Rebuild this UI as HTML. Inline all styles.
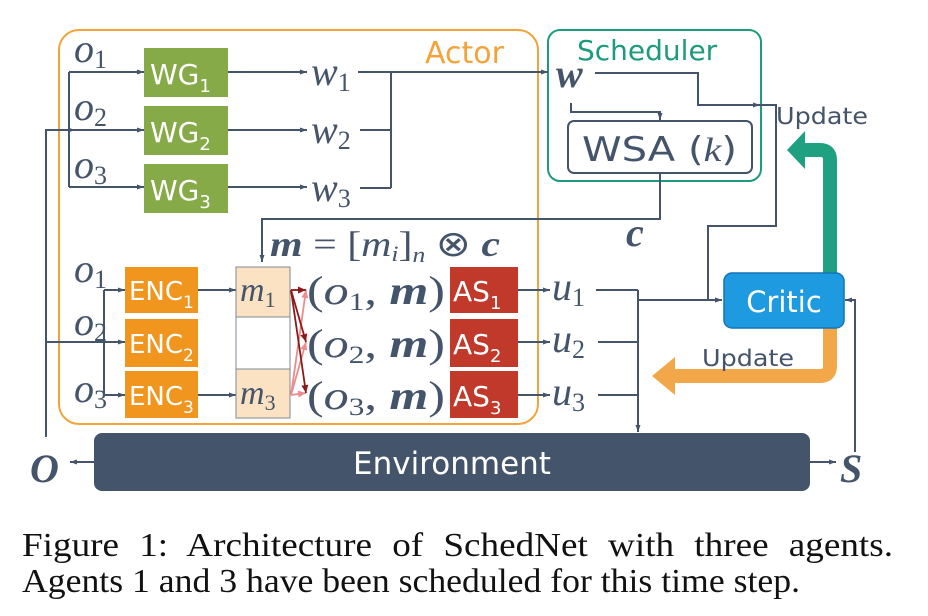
<!DOCTYPE html>
<html><head><meta charset="utf-8"><style>
html,body{margin:0;padding:0;background:#fff;}
svg{display:block;}
.m{font-family:"Liberation Serif",serif;font-style:italic;fill:#44546a;}
.s{font-family:"DejaVu Sans","Liberation Sans",sans-serif;fill:#fff;}
</style></head><body>
<svg width="928" height="616" viewBox="0 0 928 616" xmlns="http://www.w3.org/2000/svg">
<defs>
<marker id="a" markerWidth="8" markerHeight="8" refX="7" refY="4" orient="auto" markerUnits="userSpaceOnUse"><path d="M0,1.5 L7,4 L0,6.5z" fill="#44546a"/></marker>
<marker id="r" markerWidth="10" markerHeight="10" refX="8" refY="4" orient="auto" markerUnits="userSpaceOnUse"><path d="M0,0.5 L8,4 L0,7.5z" fill="#8b1a1a"/></marker>
<marker id="p" markerWidth="10" markerHeight="10" refX="8" refY="4" orient="auto" markerUnits="userSpaceOnUse"><path d="M0,0.5 L8,4 L0,7.5z" fill="#ec8c8c"/></marker>
</defs>
<rect x="59" y="30" width="479" height="394" rx="20" fill="none" stroke="#f2a43a" stroke-width="2"/>
<text x="425" y="63" font-family="DejaVu Sans,sans-serif" font-size="30" fill="#f2a43a">Actor</text>
<rect x="548" y="30" width="213" height="151" rx="12" fill="none" stroke="#1d9b7d" stroke-width="2"/>
<text x="577" y="60" font-family="DejaVu Sans,sans-serif" font-size="28" fill="#1d9b7d">Scheduler</text>
<rect x="568" y="121" width="184" height="52" rx="6" fill="none" stroke="#44546a" stroke-width="2"/>
<text x="582" y="161" font-family="DejaVu Sans,sans-serif" font-size="34" fill="#44546a" textLength="155" lengthAdjust="spacingAndGlyphs">WSA (<tspan font-family="Liberation Serif,serif" font-style="italic">k</tspan>)</text>
<text x="556" y="87" class="m" font-weight="bold" font-size="40">w</text>

<g stroke="#44546a" stroke-width="2" fill="none">
<path d="M46,437 V130 H75" marker-end="url(#a)"/>
<path d="M69,72 V187" />
<path d="M69,72 H144" marker-end="url(#a)"/>
<path d="M69,130 H144" marker-end="url(#a)"/>
<path d="M69,187 H144" marker-end="url(#a)"/>
<path d="M228,72 H307" marker-end="url(#a)"/>
<path d="M228,130 H307" marker-end="url(#a)"/>
<path d="M228,187 H307" marker-end="url(#a)"/>
<path d="M358,72 H391 M360,130 H391 M360,188 H391 M391,72 V188"/>
<path d="M391,72 H548" marker-end="url(#a)"/>
<path d="M595,73 H698 V105 H760" marker-end="url(#a)"/>
<path d="M760,105 H776 V226 H708 V300 H722" marker-end="url(#a)"/>
<path d="M571,103 V112 H660 V120" marker-end="url(#a)"/>
<path d="M660,173 V219 H262 V262" marker-end="url(#a)"/>
<path d="M46,342 H125" marker-end="url(#a)"/>
<path d="M104,290 V395"/>
<path d="M104,290 H125" marker-end="url(#a)"/>
<path d="M104,395 H125" marker-end="url(#a)"/>
<path d="M198,290 H236" marker-end="url(#a)"/>
<path d="M198,395 H236" marker-end="url(#a)"/>
<path d="M518,290 H550" marker-end="url(#a)"/>
<path d="M518,342 H550" marker-end="url(#a)"/>
<path d="M518,395 H550" marker-end="url(#a)"/>
<path d="M596,290 H638 M598,342 H638 M598,395 H638"/>
<path d="M638,290 V432" marker-end="url(#a)"/>
<path d="M638,300 H722" marker-end="url(#a)"/>
<path d="M855,452 V300 H845" marker-end="url(#a)"/>
<path d="M810,462 H836" marker-end="url(#a)"/>
<path d="M94,462 H70" marker-end="url(#a)"/>
</g>

<g fill="#86aa48">
<rect x="144" y="48" width="84" height="49"/>
<rect x="144" y="106" width="84" height="49"/>
<rect x="144" y="164" width="84" height="49"/>
</g>
<g class="s" font-size="28">
<text x="150" y="84">WG<tspan font-size="18" dy="8">1</tspan></text>
<text x="150" y="142">WG<tspan font-size="18" dy="8">2</tspan></text>
<text x="150" y="200">WG<tspan font-size="18" dy="8">3</tspan></text>
</g>
<g class="m" font-size="40">
<text x="74" y="62">o<tspan font-size="26" font-style="normal" dy="6">1</tspan></text>
<text x="74" y="120">o<tspan font-size="26" font-style="normal" dy="6">2</tspan></text>
<text x="74" y="178">o<tspan font-size="26" font-style="normal" dy="6">3</tspan></text>
<text x="311" y="85">w<tspan font-size="26" font-style="normal" dy="6">1</tspan></text>
<text x="311" y="143">w<tspan font-size="26" font-style="normal" dy="6">2</tspan></text>
<text x="311" y="201">w<tspan font-size="26" font-style="normal" dy="6">3</tspan></text>
<text x="74" y="282">o<tspan font-size="26" font-style="normal" dy="6">1</tspan></text>
<text x="74" y="335">o<tspan font-size="26" font-style="normal" dy="6">2</tspan></text>
<text x="74" y="402">o<tspan font-size="26" font-style="normal" dy="6">3</tspan></text>
<text x="552" y="300">u<tspan font-size="26" font-style="normal" dy="6">1</tspan></text>
<text x="552" y="352">u<tspan font-size="26" font-style="normal" dy="6">2</tspan></text>
<text x="552" y="405">u<tspan font-size="26" font-style="normal" dy="6">3</tspan></text>
</g>
<text x="270" y="256" class="m" font-size="36" textLength="230" lengthAdjust="spacingAndGlyphs"><tspan font-weight="bold">m</tspan><tspan font-style="normal"> = [</tspan>m<tspan font-size="22" dy="5">i</tspan><tspan dy="-5" font-style="normal">]</tspan><tspan font-size="22" dy="6">n</tspan><tspan dy="-6" font-style="normal"> ⊗ </tspan><tspan font-weight="bold">c</tspan></text>
<text x="626" y="246" class="m" font-weight="bold" font-size="40">c</text>

<g fill="#f0961e">
<rect x="125" y="267" width="73" height="46"/>
<rect x="125" y="319" width="73" height="48"/>
<rect x="125" y="371" width="73" height="47"/>
</g>
<g class="s" font-size="26">
<text x="129" y="300">ENC<tspan font-size="17" dy="8">1</tspan></text>
<text x="129" y="353">ENC<tspan font-size="17" dy="8">2</tspan></text>
<text x="129" y="405">ENC<tspan font-size="17" dy="8">3</tspan></text>
</g>
<rect x="236" y="267" width="54" height="151" fill="#fff" stroke="#7f8a96" stroke-width="1"/>
<rect x="236" y="267" width="54" height="50" fill="#fbe2c2" stroke="#7f8a96" stroke-width="1"/>
<rect x="236" y="369" width="54" height="49" fill="#fbe2c2" stroke="#7f8a96" stroke-width="1"/>
<g class="m" font-size="34">
<text x="240" y="301">m<tspan font-size="22" font-style="normal" dy="6">1</tspan></text>
<text x="240" y="404">m<tspan font-size="22" font-style="normal" dy="6">3</tspan></text>
</g>
<g stroke-width="1.8">
<path d="M291,395 L306,290" stroke="#ec8c8c" marker-end="url(#p)"/>
<path d="M291,395 L306,342" stroke="#ec8c8c" marker-end="url(#p)"/>
<path d="M291,395 L306,393" stroke="#ec8c8c" marker-end="url(#p)"/>
<path d="M291,290 L306,290" stroke="#8b1a1a" marker-end="url(#r)"/>
<path d="M291,290 L306,342" stroke="#8b1a1a" marker-end="url(#r)"/>
<path d="M291,290 L306,393" stroke="#8b1a1a" marker-end="url(#r)"/>
</g>
<g class="m" font-size="40">
<text x="307" y="304" textLength="138" lengthAdjust="spacingAndGlyphs"><tspan font-style="normal">(</tspan>o<tspan font-size="25" font-style="normal" dy="6">1</tspan><tspan dy="-6" font-style="normal">, </tspan><tspan font-weight="bold">m</tspan><tspan font-style="normal">)</tspan></text>
<text x="307" y="357" textLength="138" lengthAdjust="spacingAndGlyphs"><tspan font-style="normal">(</tspan>o<tspan font-size="25" font-style="normal" dy="6">2</tspan><tspan dy="-6" font-style="normal">, </tspan><tspan font-weight="bold">m</tspan><tspan font-style="normal">)</tspan></text>
<text x="307" y="409" textLength="138" lengthAdjust="spacingAndGlyphs"><tspan font-style="normal">(</tspan>o<tspan font-size="25" font-style="normal" dy="6">3</tspan><tspan dy="-6" font-style="normal">, </tspan><tspan font-weight="bold">m</tspan><tspan font-style="normal">)</tspan></text>
</g>
<g fill="#c0392b">
<rect x="450" y="267" width="68" height="46"/>
<rect x="450" y="319" width="68" height="48"/>
<rect x="450" y="371" width="68" height="47"/>
</g>
<g class="s" font-size="28">
<text x="453" y="301">AS<tspan font-size="18" dy="8">1</tspan></text>
<text x="453" y="354">AS<tspan font-size="18" dy="8">2</tspan></text>
<text x="453" y="406">AS<tspan font-size="18" dy="8">3</tspan></text>
</g>

<path d="M830,274 V160 Q830,150 820,150 H800" fill="none" stroke="#1fa080" stroke-width="14"/>
<path d="M787,150 L805,131 V169z" fill="#1fa080"/>
<path d="M830,326 V366 Q830,376 820,376 H670" fill="none" stroke="#f2a849" stroke-width="14"/>
<path d="M652,376 L675,357 V395z" fill="#f2a849"/>
<text x="776" y="124" font-family="DejaVu Sans,sans-serif" font-size="23" fill="#44546a" textLength="92" lengthAdjust="spacingAndGlyphs">Update</text>
<text x="702" y="366" font-family="DejaVu Sans,sans-serif" font-size="23" fill="#44546a" textLength="92" lengthAdjust="spacingAndGlyphs">Update</text>
<rect x="724" y="273" width="120" height="55" rx="8" fill="#1e9be0" stroke="#1474b8" stroke-width="1.5"/>
<text x="784" y="312" text-anchor="middle" class="s" font-size="29">Critic</text>
<rect x="94" y="433" width="716" height="58" rx="8" fill="#44546a"/>
<text x="452" y="474" text-anchor="middle" class="s" font-size="31">Environment</text>
<text x="30" y="482" class="m" font-weight="bold" font-size="40">O</text>
<text x="840" y="482" class="m" font-weight="bold" font-size="40">S</text>
<text x="22" y="556" font-family="Liberation Serif,serif" font-size="34" fill="#111" textLength="871" lengthAdjust="spacingAndGlyphs" word-spacing="10">Figure 1:  Architecture of SchedNet with three agents.</text>
<text x="22" y="592" font-family="Liberation Serif,serif" font-size="34" fill="#111" textLength="778" lengthAdjust="spacingAndGlyphs">Agents 1 and 3 have been scheduled for this time step.</text>
</svg>
</body></html>
